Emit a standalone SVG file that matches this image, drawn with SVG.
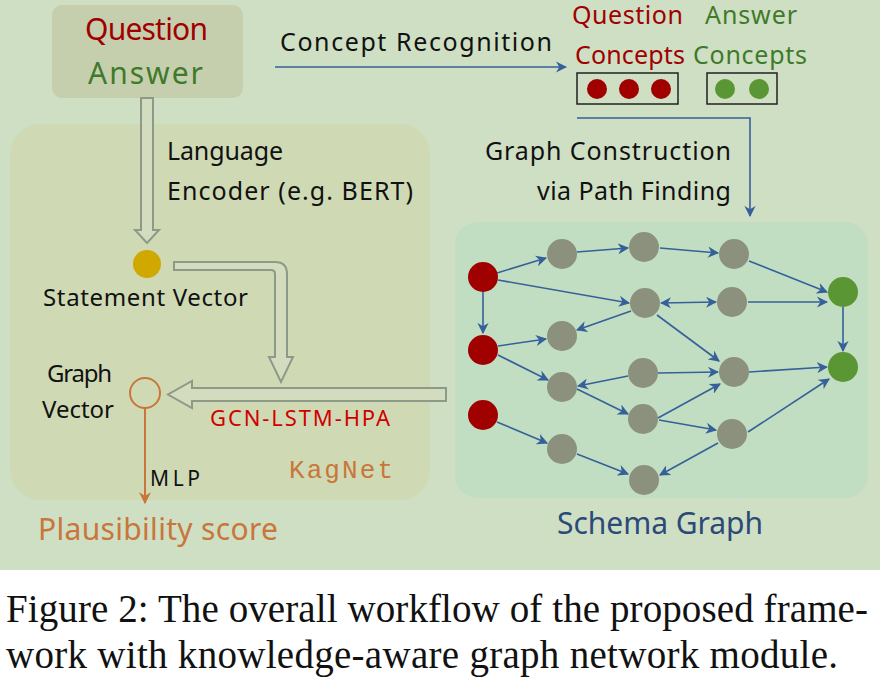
<svg xmlns="http://www.w3.org/2000/svg" width="880" height="690" viewBox="0 0 880 690">
<defs>
<marker id="a" viewBox="0 0 10 10" refX="9" refY="5" markerWidth="7" markerHeight="7" orient="auto-start-reverse"><path d="M0,0 L10,5 L0,10 L3,5 Z" fill="#36609a"/></marker>
<marker id="o" viewBox="0 0 10 10" refX="9" refY="5" markerWidth="6" markerHeight="6" orient="auto"><path d="M0,0 L10,5 L0,10 L3,5 Z" fill="#c8763a"/></marker>
</defs>
<style>
.t{font-family:"Liberation Serif",serif}
.s{font-family:"Noto Sans","DejaVu Sans",sans-serif}
.e{stroke:#36609a;stroke-width:1.6;fill:none;marker-end:url(#a)}
.g{fill:#8c917e}.r{fill:#a00000}.gr{fill:#5a9633}
.fat{fill:#d3dcbe;stroke:#8d9a88;stroke-width:2}
</style>
<rect width="880" height="690" fill="#cfdfc4"/>
<rect x="0" y="570" width="880" height="120" fill="#ffffff"/>
<g id="kagnet"><rect x="10" y="124" width="420" height="376" rx="30" fill="#cfdab5"/>
<text x="289" y="478" font-family="Liberation Mono,monospace" font-size="26" fill="#c8763a" textLength="104">KagNet</text></g>
<g id="schema"><rect x="455" y="222" width="413" height="276" rx="22" fill="#c1dec3"/>
<text x="557" y="534" class="s" font-size="30" fill="#2c4a78" textLength="206">Schema Graph</text></g>
<g id="qa"><rect x="52" y="5" width="191" height="93" rx="10" fill="#c5cfae"/>
<text x="85" y="40" class="s" font-size="30" fill="#a00000" textLength="123">Question</text>
<text x="88" y="84" class="s" font-size="30" fill="#3f7a2a" textLength="115">Answer</text></g>
<g id="concepts">
<text x="572" y="24" class="s" font-size="25" fill="#a00000" textLength="111">Question</text>
<text x="575" y="64" class="s" font-size="25" fill="#a00000" textLength="110">Concepts</text>
<text x="705" y="24" class="s" font-size="25" fill="#3f7a2a" textLength="92">Answer</text>
<text x="693" y="64" class="s" font-size="25" fill="#3f7a2a" textLength="114">Concepts</text>
<rect x="577" y="73" width="101" height="31" fill="none" stroke="#222" stroke-width="1.5"/>
<circle cx="597" cy="89" r="10" class="r"/><circle cx="629" cy="89" r="10" class="r"/><circle cx="661" cy="89" r="10" class="r"/>
<rect x="707" y="73" width="70" height="31" fill="none" stroke="#222" stroke-width="1.5"/>
<circle cx="725" cy="89" r="10" class="gr"/><circle cx="759" cy="89" r="10" class="gr"/>
</g>
<g id="statement"><circle cx="147" cy="264" r="14" fill="#d0a800"/>
<text x="43" y="306" class="s" font-size="24" fill="#111" textLength="205">Statement Vector</text></g>
<g id="graphvec"><circle cx="145" cy="393" r="15" fill="#cfdab5" stroke="#c8763a" stroke-width="2"/>
<text x="47" y="382" class="s" font-size="24" fill="#111" textLength="65">Graph</text>
<text x="42" y="418" class="s" font-size="24" fill="#111" textLength="72">Vector</text></g>
<g id="plaus"><text x="38" y="540" class="s" font-size="30" fill="#c8763a" textLength="240">Plausibility score</text></g>
<g id="connectors">
<path class="fat" d="M141,98 H153 V230 H159 L147,243 L135,230 H141 Z"/>
<path class="fat" d="M174,262 H275 Q287,262 287,274 V357 H293 L281,382 L269,357 H275 V274 Q275,270 271,270 H174 Z"/>
<path class="fat" d="M446,388 V401 H192 V408 L168,394.5 L192,381 V388 Z"/>
<text x="167" y="160" class="s" font-size="25" fill="#111" textLength="116">Language</text>
<text x="167" y="200" class="s" font-size="25" fill="#111" textLength="246">Encoder (e.g. BERT)</text>
<text x="210" y="426" class="s" font-size="22" fill="#d00000" textLength="180">GCN-LSTM-HPA</text>
<path d="M145,408 V503" stroke="#c8763a" stroke-width="2" fill="none" marker-end="url(#o)"/>
<text x="150" y="486" class="s" font-size="21" fill="#111" textLength="50">MLP</text>
<path d="M275,67 H566" class="e"/>
<text x="280" y="51" class="s" font-size="25" fill="#111" textLength="272">Concept Recognition</text>
<path d="M577,118 H750 V216" class="e"/>
<text x="485" y="160" class="s" font-size="25" fill="#111" textLength="246">Graph Construction</text>
<text x="537" y="200" class="s" font-size="25" fill="#111" textLength="194">via Path Finding</text>
<path class="e" d="M497,273 L546,258"/>
<path class="e" d="M577,252 L628,248"/>
<path class="e" d="M660,248 L718,253"/>
<path class="e" d="M749,261 L827,292"/>
<path class="e" d="M498,280 L629,303"/>
<path class="e" d="M661,303 L716,302" style="marker-start:url(#a)"/>
<path class="e" d="M748,302 L827,302"/>
<path class="e" d="M843,307 L843,351"/>
<path class="e" d="M483,292 L483,333"/>
<path class="e" d="M631,311 L577,330"/>
<path class="e" d="M657,315 L719,361"/>
<path class="e" d="M498,346 L546,339"/>
<path class="e" d="M498,355 L548,380"/>
<path class="e" d="M628,376 L578,386"/>
<path class="e" d="M658,373 L718,372"/>
<path class="e" d="M577,389 L628,414"/>
<path class="e" d="M658,418 L720,384"/>
<path class="e" d="M659,420 L716,430"/>
<path class="e" d="M749,372 L827,367"/>
<path class="e" d="M748,432 L829,379"/>
<path class="e" d="M497,422 L547,443"/>
<path class="e" d="M577,454 L628,474"/>
<path class="e" d="M718,443 L660,475"/>
</g>
<g id="nodes">
<circle cx="483" cy="277" r="15" class="r"/><circle cx="483" cy="350" r="15" class="r"/><circle cx="483" cy="415" r="15" class="r"/>
<circle cx="562" cy="254" r="15" class="g"/><circle cx="644" cy="247" r="15" class="g"/><circle cx="734" cy="254" r="15" class="g"/>
<circle cx="645" cy="303" r="15" class="g"/><circle cx="732" cy="302" r="15" class="g"/>
<circle cx="843" cy="292" r="15" class="gr"/><circle cx="843" cy="367" r="15" class="gr"/>
<circle cx="562" cy="336" r="15" class="g"/><circle cx="562" cy="387" r="15" class="g"/>
<circle cx="643" cy="373" r="15" class="g"/><circle cx="734" cy="372" r="15" class="g"/>
<circle cx="643" cy="419" r="15" class="g"/><circle cx="732" cy="434" r="15" class="g"/>
<circle cx="562" cy="449" r="15" class="g"/><circle cx="644" cy="480" r="15" class="g"/>
</g>
<g id="caption">
<text x="6" y="622" class="t" font-size="39" fill="#111" textLength="862">Figure 2:  The overall workflow of the proposed frame-</text>
<text x="6" y="668" class="t" font-size="39" fill="#111" textLength="832">work with knowledge-aware graph network module.</text>
</g>
</svg>
